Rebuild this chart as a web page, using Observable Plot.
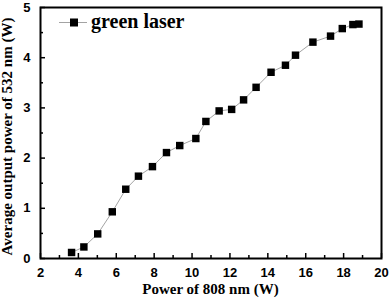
<!DOCTYPE html>
<html><head><meta charset="utf-8">
<script src="https://cdn.jsdelivr.net/npm/d3@7"></script>
<script src="https://cdn.jsdelivr.net/npm/@observablehq/plot@0.6"></script>
<style>body{margin:0;background:#fff}</style>
</head><body><div id="chart"></div>
<script>
const pumpPower = [3.64,4.29,5.02,5.79,6.5,7.17,7.91,8.65,9.35,10.2,10.73,11.43,12.09,12.72,13.38,14.17,14.93,15.46,16.38,17.31,17.93,18.49,18.81];
const greenPower = [0.12,0.23,0.49,0.93,1.38,1.64,1.83,2.11,2.25,2.39,2.73,2.94,2.97,3.16,3.41,3.71,3.85,4.05,4.31,4.43,4.58,4.66,4.67];
const xMajor = [2,4,6,8,10,12,14,16,18,20];
const xMinor = [3,5,7,9,11,13,15,17,19];
const yMajor = [0,1,2,3,4,5];
const yMinor = [0.5,1.5,2.5,3.5,4.5];
const seriesName = "green laser";
const xLabel = "Power of 808 nm (W)";
const yLabel = "Average output power of 532 nm (W)";

const data = pumpPower.map((x,i)=>({x, y: greenPower[i]}));
const W = 389, H = 300, mT = 7, mB = 42, mL = 40, mR = 8;
const ph = H - mT - mB, pw = W - mL - mR;
const sans = "'Liberation Sans', Arial, sans-serif";
const serif = "'Liberation Serif', 'Times New Roman', serif";

const chart = Plot.plot({
  width: W, height: H,
  marginTop: mT, marginBottom: mB, marginLeft: mL, marginRight: mR,
  x: {domain: [2,20]},
  y: {domain: [0,5]},
  style: {fontFamily: sans, fontSize: "13px", fontWeight: "bold", background: "#fff", color: "#000"},
  marks: [
    Plot.axisX({ticks: xMajor, tickFormat: d3.format("d"), tickSize: 0, tickPadding: 9, fontSize: 13, fontWeight: "bold", label: null}),
    Plot.axisY({ticks: yMajor, tickFormat: d3.format("d"), tickSize: 0, tickPadding: 10, fontSize: 13, fontWeight: "bold", label: null}),
    Plot.tickX(xMajor, {x: d=>d, stroke: "#000", strokeWidth: 1.5, insetTop: ph - 5}),
    Plot.tickX(xMinor, {x: d=>d, stroke: "#000", strokeWidth: 1.5, insetTop: ph - 3}),
    Plot.tickY(yMajor, {y: d=>d, stroke: "#000", strokeWidth: 1.5, insetRight: pw - 5}),
    Plot.tickY(yMinor, {y: d=>d, stroke: "#000", strokeWidth: 1.5, insetRight: pw - 3}),
    Plot.line(data, {x: "x", y: "y", stroke: "#999", strokeWidth: 0.9}),
    Plot.dot(data, {x: "x", y: "y", symbol: "square", r: 4.2, fill: "#000", stroke: "none"}),
    Plot.frame({stroke: "#000", strokeWidth: 2})
  ]
});

const svg = d3.select(chart);
// axis labels
svg.append("text").attr("x", mL + pw/2).attr("y", H - 6).attr("text-anchor","middle")
  .attr("font-family", serif).attr("font-weight","bold").attr("font-size", 15).attr("fill","#000").text(xLabel);
svg.append("text").attr("transform", `translate(12,${mT + ph/2 + 4}) rotate(-90)`).attr("text-anchor","middle")
  .attr("font-family", serif).attr("font-weight","bold").attr("font-size", 15).attr("fill","#000").text(yLabel);
// legend
const lg = svg.append("g");
lg.append("line").attr("x1",59).attr("x2",87).attr("y1",22.5).attr("y2",22.5).attr("stroke","#999").attr("stroke-width",0.9);
lg.append("rect").attr("x",70).attr("y",18.5).attr("width",8).attr("height",8).attr("fill","#000");
lg.append("text").attr("x",91).attr("y",28).attr("text-anchor","start").attr("font-family", serif).attr("font-weight","bold").attr("font-size",20).attr("fill","#000").text(seriesName);

document.getElementById("chart").appendChild(chart);
</script>
</body></html>
